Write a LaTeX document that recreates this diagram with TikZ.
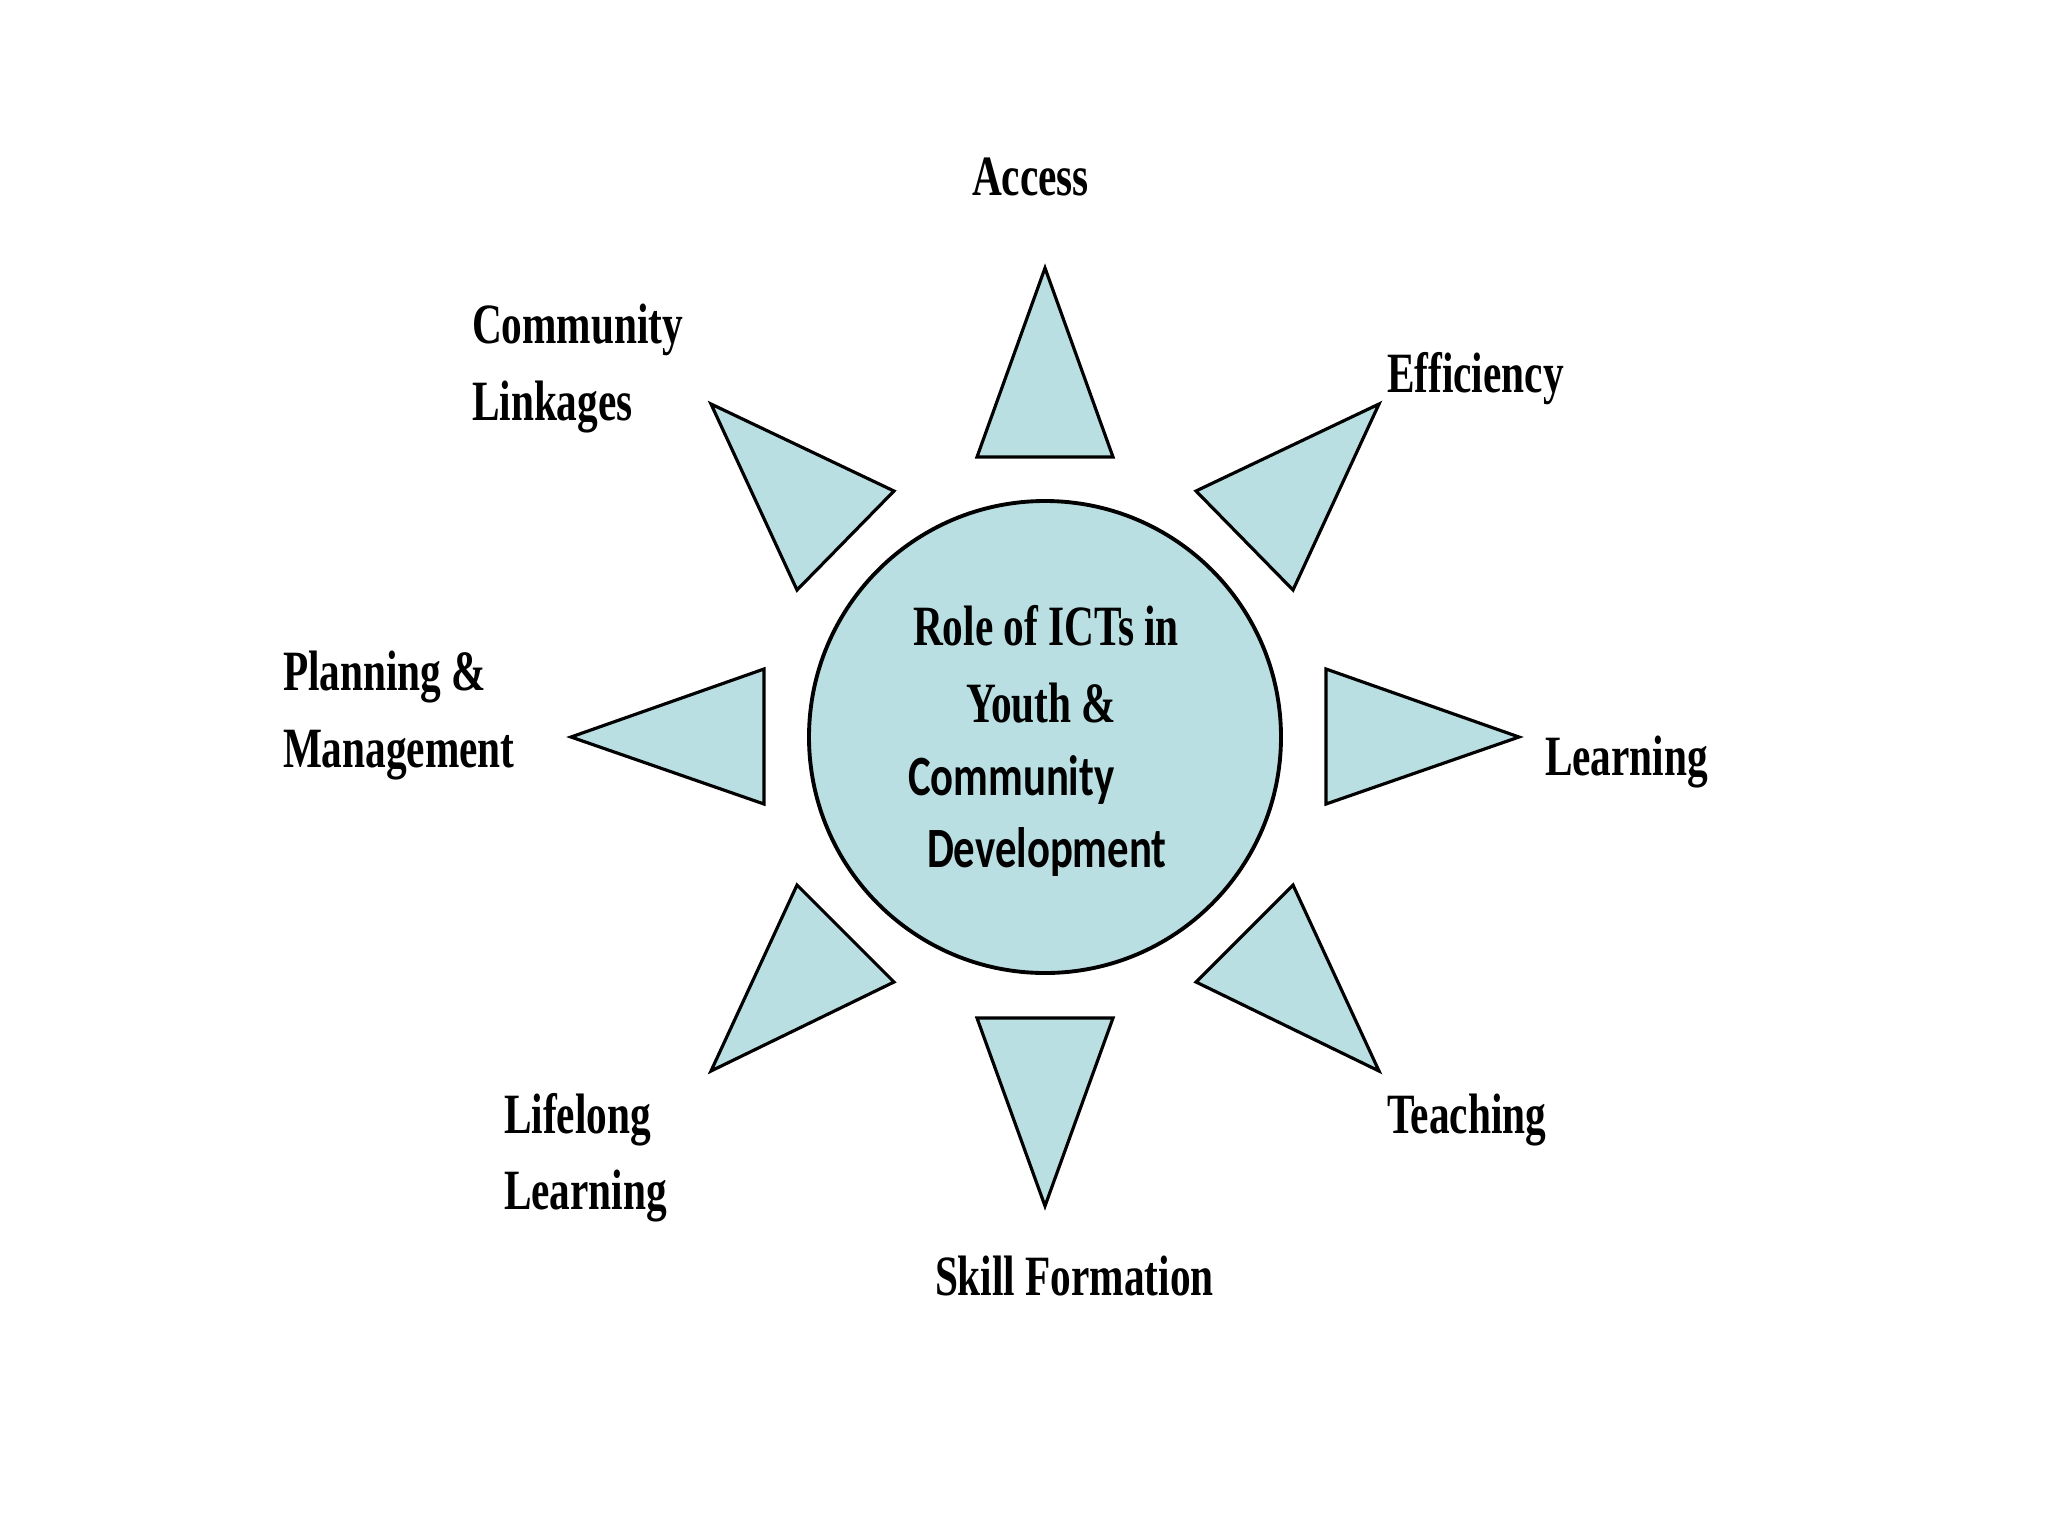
\documentclass[tikz,border=0pt]{standalone}
\usepackage{fontspec}
\newfontfamily\lblserif[FakeStretch=0.725]{Liberation Serif}
\newfontfamily\lblsans[FakeStretch=0.75]{Carlito}
\definecolor{ray}{RGB}{186,223,226}
\tikzset{
  ray/.style={fill=ray, draw=black, line width=0.9pt, line join=miter},
  hub/.style={fill=ray, draw=black, line width=1.1pt},
  lbl/.style={inner sep=0pt, outer sep=0pt, font=\lblserif\bfseries\fontsize{16.2}{19}\selectfont, text=black},
  sanslbl/.style={inner sep=0pt, outer sep=0pt, font=\lblsans\bfseries\fontsize{16.2}{19}\selectfont, text=black}
}
\begin{document}
\begin{tikzpicture}[x=0.01cm, y=-0.01cm]
\useasboundingbox (0,0) rectangle (2048,1536);
% centre circle
\draw[hub] (1045,737) circle[radius=236];
% rays
\draw[ray] (1045,268) -- (1113,457) -- (977,457) -- cycle;
\draw[ray] (1045,1206) -- (1113,1018) -- (977,1018) -- cycle;
\draw[ray] (1519,737) -- (1326,669) -- (1326,804) -- cycle;
\draw[ray] (571,737) -- (764,669) -- (764,804) -- cycle;
\draw[ray] (1379,404) -- (1196,491) -- (1293,590) -- cycle;
\draw[ray] (711,404) -- (894,491) -- (797,590) -- cycle;
\draw[ray] (1379,1071) -- (1196,982) -- (1293,885) -- cycle;
\draw[ray] (711,1071) -- (894,982) -- (797,885) -- cycle;
% centre text
\node[lbl, anchor=base] (c1) at (1046,645) {Role of ICTs in};
\node[lbl, anchor=base west] (c2) at (966,722) {Youth \&};
\node[sanslbl, anchor=base west] (c3) at (908,795) {Community};
\node[sanslbl, anchor=base west] (c4) at (927,867) {Development};
% labels
\node[lbl, anchor=base west] (access) at (972,195) {Access};
\node[lbl, anchor=base west] (cl1) at (472,343) {Community};
\node[lbl, anchor=base west] (cl2) at (472,420) {Linkages};
\node[lbl, anchor=base west] (eff) at (1387,392) {Efficiency};
\node[lbl, anchor=base west] (pm1) at (283,690) {Planning \&};
\node[lbl, anchor=base west] (pm2) at (283,767) {Management};
\node[lbl, anchor=base west] (learn) at (1545,775) {Learning};
\node[lbl, anchor=base west] (ll1) at (504,1133) {Lifelong};
\node[lbl, anchor=base west] (ll2) at (504,1209) {Learning};
\node[lbl, anchor=base west] (teach) at (1387,1133) {Teaching};
\node[lbl, anchor=base west] (skill) at (935,1295) {Skill Formation};
\end{tikzpicture}
\end{document}
